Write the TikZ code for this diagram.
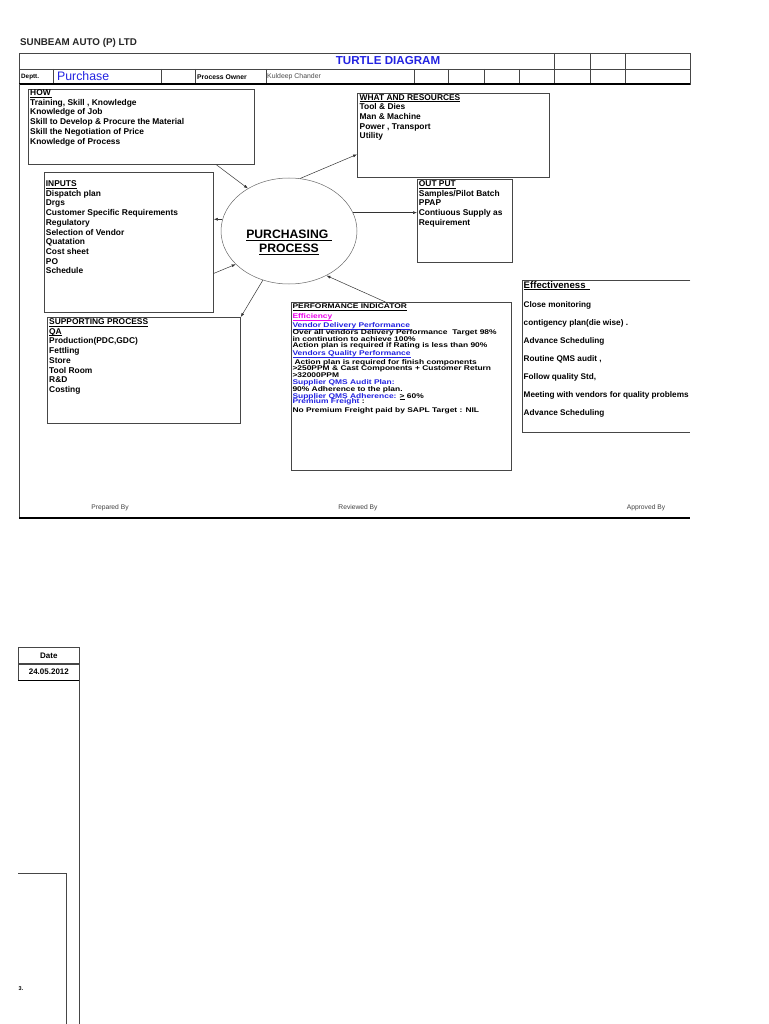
\documentclass[tikz,border=0pt]{standalone}
\usepackage{fontspec}
\setmainfont{Liberation Sans}
\newfontfamily\wideface{Liberation Sans}[FakeStretch=1.24]
\usetikzlibrary{positioning,arrows.meta,shapes.geometric,calc}
\definecolor{xlblue}{RGB}{35,35,225}
\definecolor{xlmagenta}{RGB}{235,0,235}
\definecolor{rulegray}{RGB}{70,70,70}
\newcommand\pifont{\wideface\fontsize{6.8}{6.6}\selectfont\bfseries\lineskiplimit-20pt\relax}
\newcommand\boxfont{\fontsize{8.4}{9.7}\selectfont\bfseries\lineskiplimit-20pt\relax}
\newcommand\uline[1]{\underline{\raisebox{0pt}[\height][0pt]{#1}}}

\begin{document}
\begin{tikzpicture}[
        x=1pt, y=-1pt,
        font=\boxfont,
        >={Latex[length=4pt,width=3pt]},
        box/.style={
            draw=rulegray,
            line width=0.8pt,
            anchor=north west,
            inner sep=0pt
        },
        boxtext/.style={
            anchor=north west,
            align=left,
            inner sep=0pt
        },
        arrow/.style={
            ->,
            line width=0.5pt,
            draw=black!80
        },
        rule/.style={
            draw=rulegray,
            line width=0.7pt
        },
        heavy/.style={
            draw=black,
            line width=2pt
        },
        small/.style={
            inner sep=0pt,
            text=black!75,
            font=\fontsize{6.7}{7}\selectfont
        }
    ]

    \useasboundingbox (0,0) rectangle (768,1024);

    % Kopfzeile
    \node[anchor=west, inner sep=0pt, text=black!85,
        font=\fontsize{9.8}{11}\selectfont\bfseries] (firm) at (20,43) {SUNBEAM AUTO (P) LTD};
    \draw[rule] (19,53) rectangle (690,84);
    \draw[rule] (19,69) -- (690,69);
    \foreach \xx in {554,590,625}
        \draw[rule] (\xx,53) -- (\xx,84);
    \foreach \xx in {53,161,195,266,414,448,484,519}
        \draw[rule] (\xx,69) -- (\xx,84);
    \draw[heavy] (19,84) -- (690,84);

    \node[inner sep=0pt, text=xlblue,
        font=\fontsize{11.6}{12}\selectfont\bfseries] (title) at (388,61) {TURTLE DIAGRAM};
    \node[anchor=west, inner sep=0pt,
        font=\fontsize{6.3}{7}\selectfont\bfseries] (dept) at (21,77) {Deptt.};
    \node[anchor=west, inner sep=0pt, text=xlblue,
        font=\fontsize{12.3}{13}\selectfont] (deptname) at (57,76.5) {Purchase};
    \node[anchor=west, inner sep=0pt,
        font=\fontsize{6.8}{7}\selectfont\bfseries] (owner) at (197,77) {Process Owner};
    \node[anchor=west, inner sep=0pt, text=black!70,
        font=\fontsize{6.9}{7}\selectfont] (ownername) at (267,77) {Kuldeep Chander};

    % Rahmen
    \draw[rule] (19,84) -- (19,518);
    \draw[heavy] (19,518) -- (690,518);

    % Prozess
    \node[ellipse, draw=black!60, line width=0.5pt, inner sep=0pt,
        minimum width=136pt, minimum height=106pt] (proc) at (289,231) {};
    \node[align=center, inner sep=0pt,
        font=\fontsize{12.2}{14}\selectfont\bfseries] (proctext) at ([yshift=-11.5pt]proc.center)
        {\uline{PURCHASING\ }\\\uline{PROCESS}};

    % Kaesten
    \node[box, minimum width=226pt, minimum height=75pt] (how) at (28,89) {};
    \node[boxtext] (howtext) at ([shift={(2pt,-0.5pt)}]how.north west) {
        \uline{HOW\,}\\
        Training, Skill , Knowledge\\
        Knowledge of Job\\
        Skill to Develop \& Procure the Material\\
        Skill the Negotiation of Price\\
        Knowledge of Process
    };

    \node[box, minimum width=169pt, minimum height=140pt] (inputs) at (44,172) {};
    \node[boxtext] (inputstext) at ([shift={(1.7pt,-8.5pt)}]inputs.north west) {
        \uline{INPUTS}\\
        Dispatch plan\\
        Drgs\\
        Customer Specific Requirements\\
        Regulatory\\
        Selection of Vendor\\
        Quatation\\
        Cost sheet\\
        PO\\
        Schedule
    };

    \node[box, minimum width=193pt, minimum height=106pt] (support) at (47,317) {};
    \node[boxtext] (supporttext) at ([shift={(2pt,-1.5pt)}]support.north west) {
        \uline{SUPPORTING PROCESS}\\
        \uline{QA}\\
        Production(PDC,GDC)\\
        Fettling\\
        Store\\
        Tool Room\\
        R\&D\\
        Costing
    };

    \node[box, minimum width=192pt, minimum height=84pt] (what) at (357,93) {};
    \node[boxtext] (whattext) at ([shift={(2.5pt,-1pt)}]what.north west) {
        \uline{WHAT AND RESOURCES}\\
        Tool \& Dies\\
        Man \& Machine\\
        Power , Transport\\
        Utility
    };

    \node[box, minimum width=95pt, minimum height=83pt] (output) at (417,179) {};
    \node[boxtext] (outputtext) at ([shift={(1.7pt,-1.5pt)}]output.north west) {
        \uline{OUT PUT}\\
        Samples/Pilot Batch\\
        PPAP\\
        Contiuous Supply as\\
        Requirement
    };

    \node[box, minimum width=220pt, minimum height=168pt] (pi) at (291,302) {};
    \node[boxtext, font=\pifont] (pitext) at ([shift={(1.3pt,-2pt)}]pi.north west) {
        \uline{PERFORMANCE INDICATOR}\\[3.4pt]
        \textcolor{xlmagenta}{\uline{Efficiency}}\\[2.4pt]
        \textcolor{xlblue}{\uline{Vendor Delivery Performance}}\\
        Over all vendors Delivery Performance\ \ Target 98\%\\
        in continution to achieve 100\%\\
        Action plan is required if Rating is less than 90\%\\[1.4pt]
        \textcolor{xlblue}{\uline{Vendors Quality Performance}}\\[1.8pt]
        \hspace*{2pt}Action plan is required for finish components\\
        >250PPM \& Cast Components + Customer Return\\
        >32000PPM\\[1pt]
        \textcolor{xlblue}{Supplier QMS Audit Plan:}\\
        90\% Adherence to the plan.\\
        \textcolor{xlblue}{Supplier QMS Adherence:} \uline{>} 60\%\\[-1pt]
        \textcolor{xlblue}{Premium Freight} :\\[1.8pt]
        No Premium Freight paid by SAPL Target : NIL
    };

    % Wirksamkeit
    \node[anchor=north west, inner sep=0pt,
        minimum width=168pt, minimum height=152pt] (eff) at (522,280) {};
    \draw[rule] (eff.north east) -- (eff.north west) -- (eff.south west) -- (eff.south east);
    \node[boxtext, font=\fontsize{8.2}{18}\selectfont\bfseries]
        (efftext) at ([shift={(1.5pt,-1pt)}]eff.north west) {
        {\fontsize{9.6}{10}\selectfont\uline{Effectiveness\ \,}}\\[1.6pt]
        Close monitoring\\
        contigency plan(die wise) .\\
        Advance Scheduling\\
        Routine QMS audit ,\\
        Follow quality Std,\\
        Meeting with vendors for quality problems\\
        Advance Scheduling
    };

    % Pfeile
    \draw[arrow] ([xshift=75pt]how.south) -- (proc.134);
    \draw[arrow] (proc.78) -- ([yshift=-19pt]what.west);
    \draw[arrow] (proc.170) -- (inputs.east |- proc.170);
    \draw[arrow] ([yshift=-31pt]inputs.east) -- (proc.212);
    \draw[arrow] (proc.242) -- (support.north east);
    \draw[arrow] (proc.16) -- (output.west |- proc.16);
    \draw[arrow] ([xshift=-16pt]pi.north) -- (proc.310);

    % Unterschriften
    \node[small] (prepared) at (110,508) {Prepared By};
    \node[small] (reviewed) at (358,508) {Reviewed By};
    \node[small] (approved) at (646,508) {Approved By};

    % Datum
    \node[box, line width=0.7pt, minimum width=61pt, minimum height=16pt, anchor=north west,
        font=\fontsize{8}{8}\selectfont\bfseries] (datehead) at (18,647) {Date};
    \node[box, line width=0.7pt, minimum width=61pt, minimum height=16pt, anchor=north,
        font=\fontsize{8}{8}\selectfont\bfseries, below=0pt of datehead] (dateval) {24.05.2012};
    \draw[line width=1.6pt] (dateval.south west) -- (dateval.south east);
    \draw[rule] (dateval.south east) -- ++(0,345);
    \draw[rule] (18,873) -- (66,873) -- (66,1024);
    \node[inner sep=0pt, font=\fontsize{5.5}{6}\selectfont\bfseries] (frag) at (21,989) {3.};

\end{tikzpicture}
\end{document}
